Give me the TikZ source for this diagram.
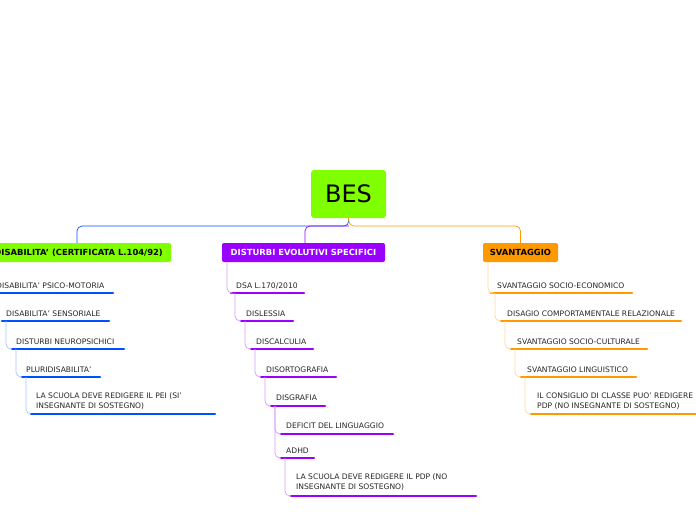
\documentclass[tikz,border=0pt]{standalone}
\usepackage{fontspec}
\setmainfont{DejaVu Sans}
\begin{document}
\begin{tikzpicture}[x=1pt,y=-1pt,
  itm/.style={anchor=base west,inner sep=0pt,font=\fontsize{7.6}{9.2}\selectfont,text=black!85,align=left},
  itm2/.style={itm,anchor=north west},
  hdr/.style={rounded corners=2pt,inner sep=0pt,font=\bfseries\fontsize{8.4}{9}\selectfont},
  ul/.style={line width=2.6pt,line cap=round},
  cn/.style={line width=0.7pt,rounded corners=5pt}]
\useasboundingbox (0,0) rectangle (696,520);
\definecolor{cb}{HTML}{0050FF}\definecolor{cp}{HTML}{9900FF}\definecolor{co}{HTML}{FF9900}\definecolor{cg}{HTML}{80FF00}
% root
\node[fill=cg,rounded corners=3pt,minimum width=75pt,minimum height=48pt,font=\fontsize{24}{26}\selectfont] (bes) at (348.5,194) {BES};
% headers
\node[hdr,fill=cg,minimum width=182pt,minimum height=19pt] (h1) at (80,252.5) {};
\node[anchor=east,inner sep=0pt,font=\bfseries\fontsize{8.4}{9}\selectfont] (h1t) at (163,253) {DISABILITA' (CERTIFICATA L.104/92)};
\node[hdr,fill=cp,minimum width=163pt,minimum height=19pt,text=white] (h2) at (303.5,252.5) {DISTURBI EVOLUTIVI SPECIFICI};
\node[hdr,fill=co,minimum width=75pt,minimum height=19pt,text=black] (h3) at (520.5,252.5) {SVANTAGGIO};
\draw[cn,cb] (bes.south) -- (349,226) -| (h1.north -| 77,0);
\draw[cn,cp] (349,226) -| (h2.north -| 305,0);
\draw[cn,co] (bes.south) -- (349,226) -| (h3.north);
% left column
\foreach \n/\tx/\ty/\ua/\ub/\uy/\t in {
 a1/-4/288/-2/113/293/{DISABILITA' PSICO-MOTORIA},
 a2/6/316/2/109/321/{DISABILITA' SENSORIALE},
 a3/16/344/12/124/349/{DISTURBI NEUROPSICHICI},
 a4/26/372/22/100/377/{PLURIDISABILITA'}}
 {\node[itm] (\n) at (\tx,\ty) {\t}; \draw[ul,cb] (\ua,\uy) coordinate (\n s) -- (\ub,\uy);}
\node[itm2] (a5) at (36,393) {LA SCUOLA DEVE REDIGERE IL PEI (SI'\\INSEGNANTE DI SOSTEGNO)};
\draw[ul,cb] (31,414) coordinate (a5s) -- (215,414);
\foreach \p/\q in {a2/a3,a3/a4,a4/a5}
 \draw[cn,cb!35] ([xshift=4pt]\p s) |- (\q s);
% middle column
\foreach \n/\tx/\ty/\ua/\ub/\uy/\t in {
 b1/236/288/231/304/293/{DSA L.170/2010},
 b2/246/316/241/293/321/{DISLESSIA},
 b3/256/344/251/313/349/{DISCALCULIA},
 b4/266/372/261/336/377/{DISORTOGRAFIA},
 b5/276/400/271/325/406/{DISGRAFIA},
 b6/286/428/281/393/434/{DEFICIT DEL LINGUAGGIO},
 b7/286/453/281/314/458/{ADHD}}
 {\node[itm] (\n) at (\tx,\ty) {\t}; \draw[ul,cp] (\ua,\uy) coordinate (\n s) -- (\ub,\uy);}
\node[itm2] (b8) at (296,474) {LA SCUOLA DEVE REDIGERE IL PDP (NO\\INSEGNANTE DI SOSTEGNO)};
\draw[ul,cp] (291,496) coordinate (b8s) -- (476,496);
\draw[cn,cp!40] (h2.south -| 227,0) |- (b1s);
\foreach \p/\q in {b1/b2,b2/b3,b3/b4,b4/b5,b5/b6,b5/b7,b7/b8}
 \draw[cn,cp!40] ([xshift=4pt]\p s) |- (\q s);
% right column
\foreach \n/\tx/\ty/\ua/\ub/\uy/\t in {
 c1/497/288/491/632/293/{SVANTAGGIO SOCIO-ECONOMICO},
 c2/507/316/501/681/321/{DISAGIO COMPORTAMENTALE RELAZIONALE},
 c3/517/344/511/647/349/{SVANTAGGIO SOCIO-CULTURALE},
 c4/527/372/521/636/377/{SVANTAGGIO LINGUISTICO}}
 {\node[itm] (\n) at (\tx,\ty) {\t}; \draw[ul,co] (\ua,\uy) coordinate (\n s) -- (\ub,\uy);}
\node[itm2] (c5) at (537,393) {IL CONSIGLIO DI CLASSE PUO' REDIGERE IL\\PDP (NO INSEGNANTE DI SOSTEGNO)};
\draw[ul,co] (531,414) coordinate (c5s) -- (700,414);
\draw[cn,co!40] (h3.south -| 488,0) |- (c1s);
\foreach \p/\q in {c1/c2,c2/c3,c3/c4,c4/c5}
 \draw[cn,co!40] ([xshift=4pt]\p s) |- (\q s);
\end{tikzpicture}
\end{document}
